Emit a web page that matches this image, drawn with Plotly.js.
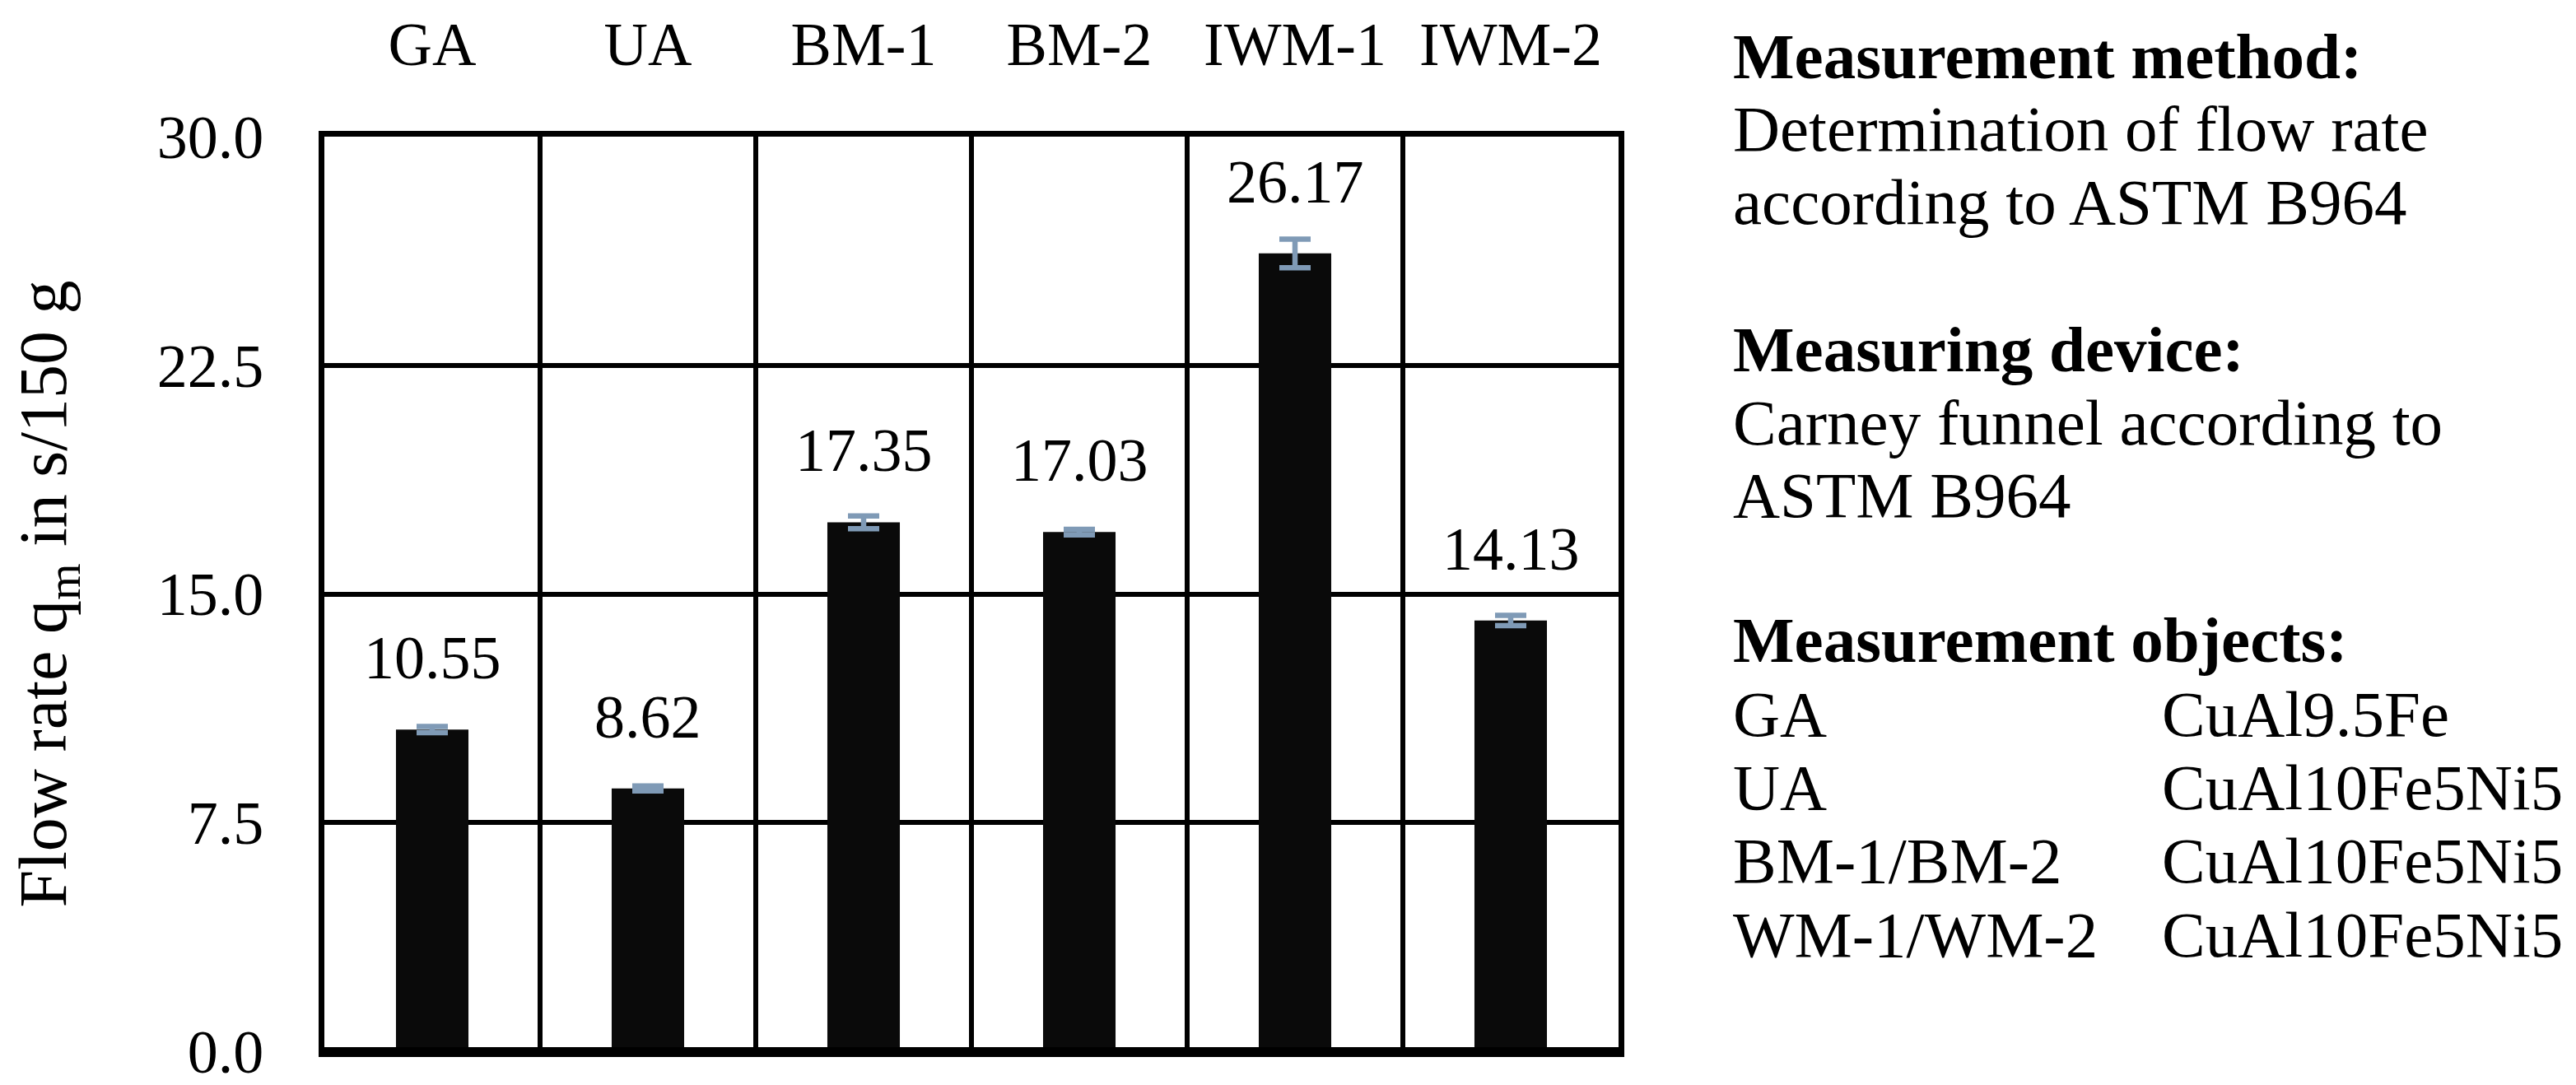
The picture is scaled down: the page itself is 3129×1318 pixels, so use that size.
<!DOCTYPE html>
<html><head><meta charset="utf-8">
<script src="https://cdn.plot.ly/plotly-3.0.1.min.js"></script>
<style>html,body{margin:0;padding:0;background:#fff}#chart{width:3129px;height:1318px}</style>
</head><body><div id="chart"></div>
<script>
// ---- data ----
const categories = ["GA", "UA", "BM-1", "BM-2", "IWM-1", "IWM-2"];
const flowRates = [10.55, 8.62, 17.35, 17.03, 26.17, 14.13];
const flowErrors = [0.10, 0.08, 0.21, 0.09, 0.47, 0.17];
const valueLabels = ["10.55", "8.62", "17.35", "17.03", "26.17", "14.13"];
const yTickValues = [0, 7.5, 15, 22.5, 30];
const yTickLabels = ["0.0", "7.5", "15.0", "22.5", "30.0"];
const yTitle = "Flow rate q<sub>m</sub> in s/150 g";
const methodHeading = "Measurement method:";
const methodText = ["Determination of flow rate", "according to ASTM B964"];
const deviceHeading = "Measuring device:";
const deviceText = ["Carney funnel according to", "ASTM B964"];
const objectsHeading = "Measurement objects:";
const objectNames = ["GA", "UA", "BM-1/BM-2", "WM-1/WM-2"];
const objectAlloys = ["CuAl9.5Fe", "CuAl10Fe5Ni5", "CuAl10Fe5Ni5", "CuAl10Fe5Ni5"];

// ---- geometry / style ----
const W = 3129, H = 1318;
const PL = 394, PR = 1966, PT = 166, PB = 1277;
const FONT = "'Liberation Serif', 'Times New Roman', serif";
const TEXTFONT = "'Palatino Linotype', 'Book Antiqua', Palatino, 'Liberation Serif', serif";
const TEXTSIZE = 79;
const px = x => (x - PL) / (PR - PL);
const py = y => (PB - y) / (PB - PT);
const DESC = 18;

const annotations = [];
categories.forEach((c, i) => {
  annotations.push({
    x: c, y: flowRates[i], xref: 'x', yref: 'y', text: valueLabels[i],
    showarrow: false, yanchor: 'bottom', xanchor: 'center', yshift: 44,
    font: {family: FONT, size: 74, color: '#000'}
  });
});

function infoLine(text, xPx, baseline) {
  annotations.push({
    x: px(xPx), y: py(baseline + DESC), xref: 'paper', yref: 'paper',
    text: text, showarrow: false, xanchor: 'left', yanchor: 'bottom',
    font: {family: TEXTFONT, size: TEXTSIZE, color: '#000'}
  });
}
const COL1 = 2103, COL2 = 2624;
const headingBaselines = [96, 452, 805];
const methodBaselines = [184, 273];
const deviceBaselines = [541, 629];
const objectBaselines = [895, 984, 1073, 1163];
infoLine('<b>' + methodHeading + '</b>', COL1, headingBaselines[0]);
methodText.forEach((t, i) => infoLine(t, COL1, methodBaselines[i]));
infoLine('<b>' + deviceHeading + '</b>', COL1, headingBaselines[1]);
deviceText.forEach((t, i) => infoLine(t, COL1, deviceBaselines[i]));
infoLine('<b>' + objectsHeading + '</b>', COL1, headingBaselines[2]);
objectNames.forEach((t, i) => {
  infoLine(t, COL1, objectBaselines[i]);
  infoLine(objectAlloys[i], COL2, objectBaselines[i]);
});

const trace = {
  type: 'bar', x: categories, y: flowRates, width: 0.336,
  marker: {color: '#0a0a0a', line: {width: 0}},
  error_y: {type: 'data', array: flowErrors, visible: true, color: '#7f9ab6', thickness: 6.5, width: 19},
  hoverinfo: 'x+y'
};

const layout = {
  width: W, height: H,
  margin: {l: PL, r: W - PR, t: PT, b: H - PB, pad: 0},
  paper_bgcolor: '#fff', plot_bgcolor: '#fff',
  showlegend: false,
  font: {family: FONT, color: '#000'},
  xaxis: {
    type: 'category', side: 'top', range: [-0.5, 5.5],
    tickson: 'boundaries', ticks: '', showgrid: true, gridcolor: '#000', gridwidth: 6,
    showline: true, linecolor: '#000', linewidth: 7, mirror: true,
    tickfont: {family: FONT, size: 74, color: '#000'}, ticklabelstandoff: 50,
    ticklabeloverflow: 'allow', automargin: false, fixedrange: true
  },
  yaxis: {
    range: [0, 30], tickvals: yTickValues, ticktext: yTickLabels,
    ticks: '', showgrid: true, gridcolor: '#000', gridwidth: 6, zeroline: false,
    showline: true, linecolor: '#000', linewidth: 7, mirror: true,
    tickfont: {family: FONT, size: 74, color: '#000'}, ticklabelstandoff: 52,
    ticklabeloverflow: 'allow',
    title: {text: yTitle, font: {family: TEXTFONT, size: 82, color: '#000'}, standoff: 86},
    automargin: false, fixedrange: true
  },
  shapes: [{type: 'line', xref: 'paper', yref: 'paper', x0: 0, x1: 1, y0: 0, y1: 0,
            line: {color: '#000', width: 10}, layer: 'above'}],
  annotations: annotations
};

Plotly.newPlot('chart', [trace], layout, {displayModeBar: false, staticPlot: true});
</script>
</body></html>
